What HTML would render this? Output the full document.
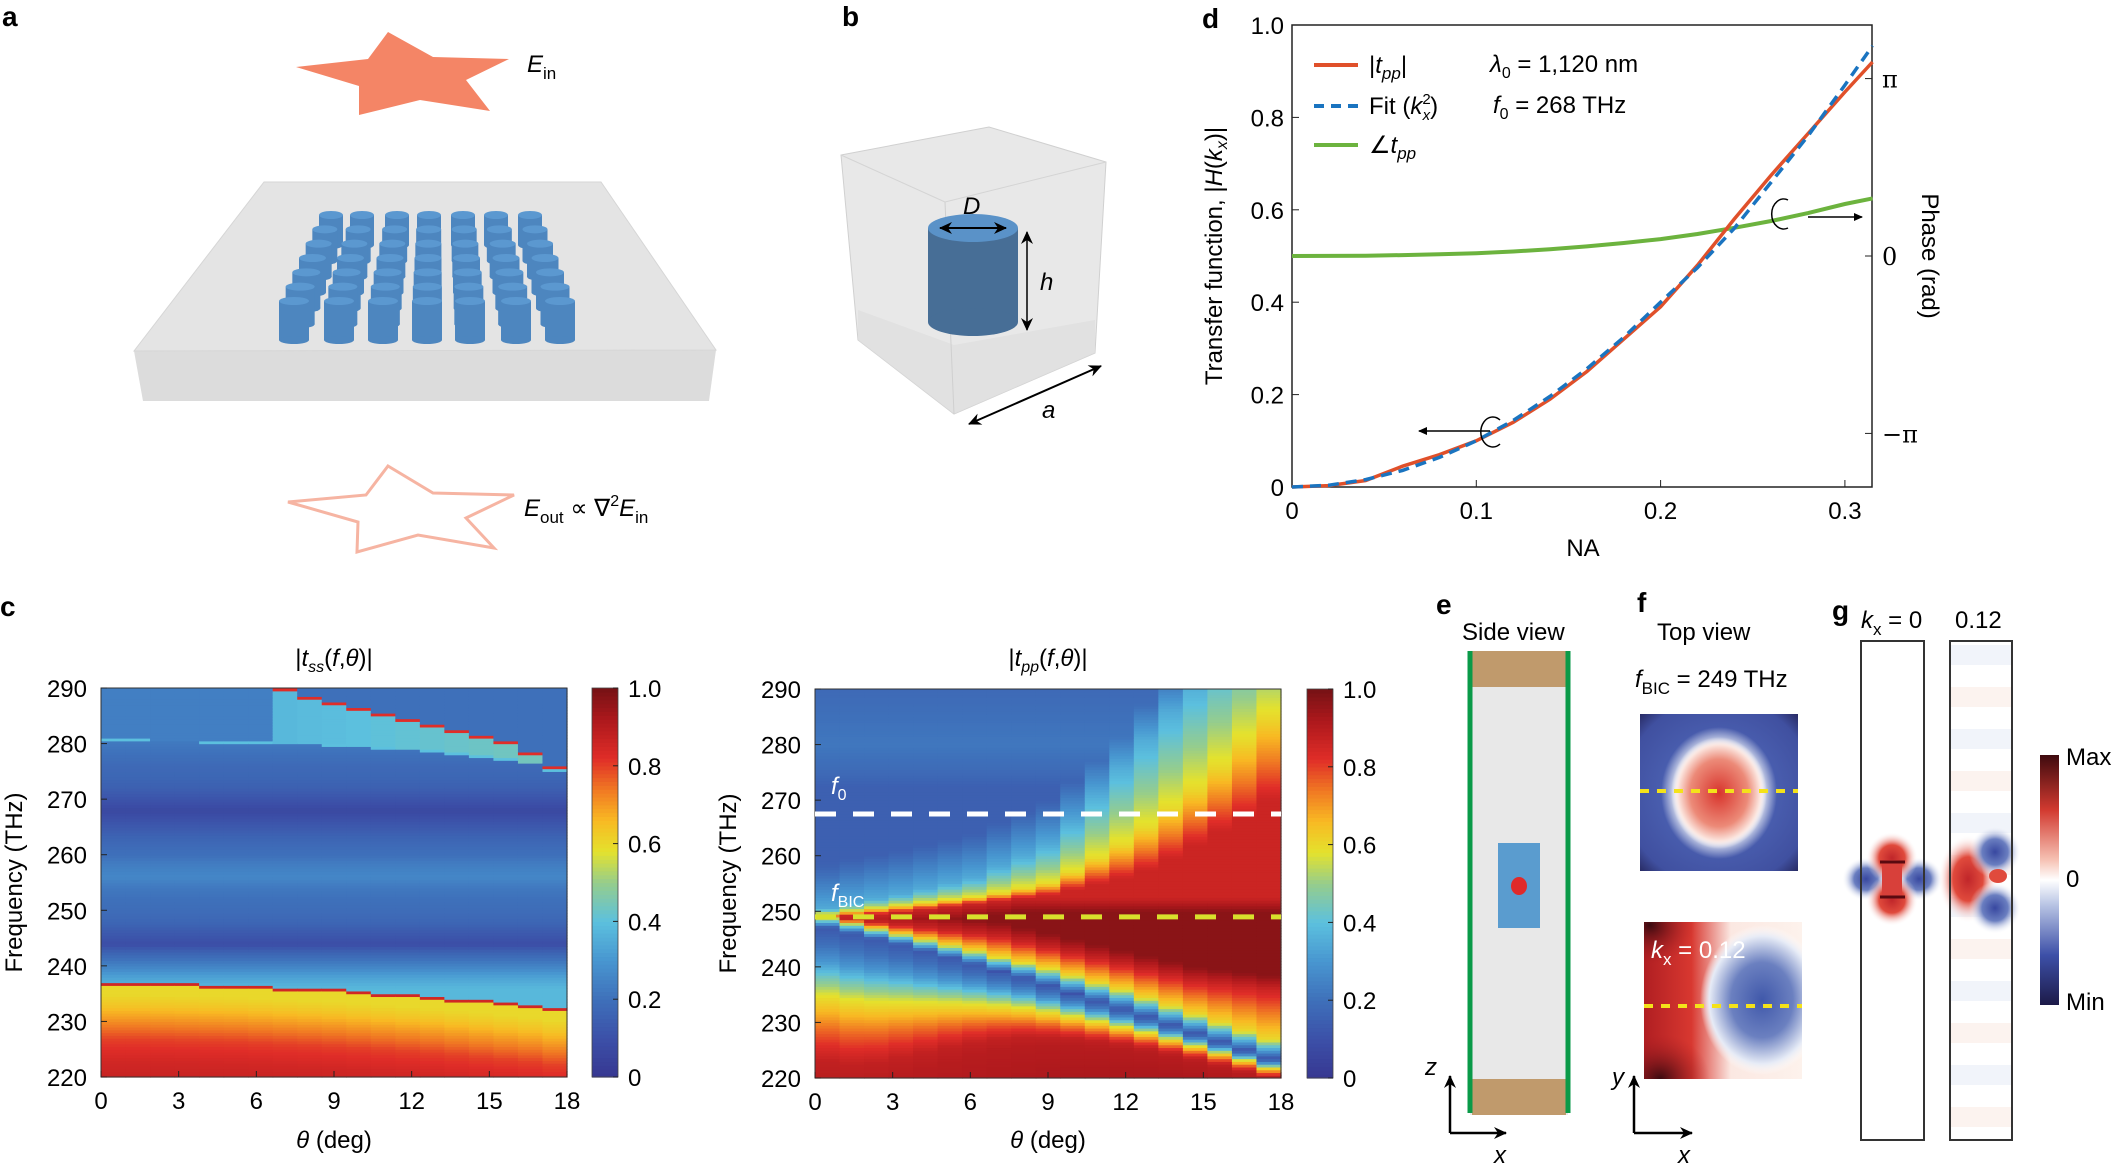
<!DOCTYPE html>
<html><head><meta charset="utf-8">
<style>
html,body{margin:0;padding:0;background:#fff;}
svg{display:block;font-family:"Liberation Sans",sans-serif;}
.lbl{font-weight:bold;font-size:28px;}
</style></head>
<body>
<svg id="fig" width="2119" height="1163" viewBox="0 0 2119 1163" xmlns="http://www.w3.org/2000/svg">
<defs>
 <linearGradient id="gCb" x1="0" y1="0" x2="0" y2="1">
  <stop offset="0" stop-color="#3e0a0e"/><stop offset="0.22" stop-color="#d23a30"/><stop offset="0.42" stop-color="#f6c2b4"/><stop offset="0.5" stop-color="#ffffff"/><stop offset="0.6" stop-color="#b8c4e4"/><stop offset="0.8" stop-color="#3d50a8"/><stop offset="1" stop-color="#1c1a48"/>
 </linearGradient>
 <radialGradient id="gTopRed" cx="0.5" cy="0.5" r="0.5">
  <stop offset="0" stop-color="#d8342c"/><stop offset="0.6" stop-color="#ec8a78"/><stop offset="0.85" stop-color="#fbe3dc"/><stop offset="1" stop-color="#ffffff" stop-opacity="0"/>
 </radialGradient>
 <radialGradient id="gTopBg" cx="0.5" cy="0.5" r="0.75">
  <stop offset="0.45" stop-color="#4a5fb0"/><stop offset="0.8" stop-color="#4050a0"/><stop offset="1" stop-color="#1e1c4c"/>
 </radialGradient>
 <radialGradient id="gWhite" cx="0.5" cy="0.5" r="0.5">
  <stop offset="0.7" stop-color="#ffffff"/><stop offset="1" stop-color="#ffffff" stop-opacity="0"/>
 </radialGradient>
 <linearGradient id="gBotBg" x1="0" y1="0" x2="1" y2="0">
  <stop offset="0" stop-color="#b01e22"/><stop offset="0.3" stop-color="#d83830"/><stop offset="0.55" stop-color="#fbe8e2"/><stop offset="1" stop-color="#fdf2ec"/>
 </linearGradient>
 <radialGradient id="gBotBlue" cx="0.5" cy="0.5" r="0.5">
  <stop offset="0" stop-color="#4058aa"/><stop offset="0.5" stop-color="#6b80c0"/><stop offset="0.85" stop-color="#e6ebf6"/><stop offset="1" stop-color="#ffffff" stop-opacity="0"/>
 </radialGradient>
 <radialGradient id="gDark" cx="0.5" cy="0.5" r="0.5">
  <stop offset="0" stop-color="#3a0a10"/><stop offset="1" stop-color="#b01e22" stop-opacity="0"/>
 </radialGradient>
 <radialGradient id="gRedBlob" cx="0.5" cy="0.5" r="0.5">
  <stop offset="0" stop-color="#c0262a"/><stop offset="0.5" stop-color="#e04a3c"/><stop offset="1" stop-color="#ffffff" stop-opacity="0"/>
 </radialGradient>
 <radialGradient id="gBlueBlob" cx="0.5" cy="0.5" r="0.5">
  <stop offset="0" stop-color="#3848a0"/><stop offset="0.5" stop-color="#6a7ec0"/><stop offset="1" stop-color="#ffffff" stop-opacity="0"/>
 </radialGradient>
 <clipPath id="clipBot"><rect x="1644" y="922" width="158" height="157"/></clipPath>
 <marker id="ah" markerWidth="10" markerHeight="10" refX="8" refY="5" orient="auto" markerUnits="userSpaceOnUse"><path d="M0,1 L9,5 L0,9 Z" fill="#000"/></marker>
 <marker id="ahs" markerWidth="14" markerHeight="14" refX="12" refY="7" orient="auto-start-reverse" markerUnits="userSpaceOnUse"><path d="M0,1 L13,7 L0,13 L4,7 Z" fill="#000"/></marker>
</defs>

<g>
 <text class="lbl" x="2" y="26">a</text>
 <polygon points="388,32 433,57 509,59 466,80 490,111 420,100 359,115 359,86 296,67 368,59" fill="#f48566"/>
 <text x="527" y="72" font-size="24" font-style="italic">E<tspan font-size="17" dy="7" font-style="normal">in</tspan></text>
 <polygon points="134,351 716,350 709,401 143,401" fill="#dcdcdc"/>
 <polygon points="264,182 601,182 716,350 134,351" fill="#e4e4e4" stroke="#d6d6d6"/>
 <g id="pillars"></g>
 <polygon points="388,466 433,493 514,495 466,518 494,548 418,535 357,552 358,522 288,502 366,495" fill="none" stroke="#f6b4a2" stroke-width="3"/>
 <text x="524" y="516" font-size="24"><tspan font-style="italic">E</tspan><tspan font-size="17" dy="7">out</tspan><tspan dy="-7"> ∝ ∇</tspan><tspan font-size="16" dy="-10">2</tspan><tspan dy="10" font-style="italic">E</tspan><tspan font-size="17" dy="7">in</tspan></text>
</g>

<g>
 <text class="lbl" x="842" y="26">b</text>
 <polygon points="841,155 989,127 1106,162 1095,353 954,414 858,340" fill="#e8e8e8" stroke="#d0d0d0"/>
 <polygon points="858,310 954,345 1095,320 1095,353 954,414 858,340" fill="#dedede" opacity="0.8"/>
 <line x1="945" y1="202" x2="954" y2="414" stroke="#cfcfcf"/>
 <line x1="841" y1="155" x2="945" y2="202" stroke="#d4d4d4"/>
 <line x1="945" y1="202" x2="1106" y2="162" stroke="#d4d4d4"/>
 <rect x="928" y="228" width="90" height="94" fill="#476e96"/>
 <ellipse cx="973" cy="322" rx="45" ry="14" fill="#476e96"/>
 <ellipse cx="973" cy="228" rx="45" ry="14" fill="#5a92c8"/>
 <line x1="940" y1="228" x2="1006" y2="228" stroke="#000" stroke-width="2" marker-start="url(#ahs)" marker-end="url(#ahs)"/>
 <text x="963" y="214" font-size="24" font-style="italic">D</text>
 <line x1="1027" y1="232" x2="1027" y2="330" stroke="#000" stroke-width="1.5" marker-start="url(#ahs)" marker-end="url(#ahs)"/>
 <text x="1040" y="290" font-size="24" font-style="italic">h</text>
 <line x1="969" y1="424" x2="1101" y2="366" stroke="#000" stroke-width="2" marker-start="url(#ahs)" marker-end="url(#ahs)"/>
 <text x="1042" y="418" font-size="24" font-style="italic">a</text>
</g>

<g id="panelD">
 <text class="lbl" x="1202" y="28">d</text>
</g>

<g id="panelC">
 <text class="lbl" x="0" y="616">c</text>
</g>

<g>
 <text class="lbl" x="1436" y="614">e</text>
 <text x="1462" y="640" font-size="24">Side view</text>
 <rect x="1470" y="651" width="98" height="464" fill="#e8e8e8"/>
 <rect x="1472" y="651" width="94" height="36" fill="#c09a6c"/>
 <rect x="1472" y="1079" width="94" height="36" fill="#c09a6c"/>
 <line x1="1470" y1="651" x2="1470" y2="1113" stroke="#0a9a48" stroke-width="5"/>
 <line x1="1568" y1="651" x2="1568" y2="1113" stroke="#0a9a48" stroke-width="5"/>
 <rect x="1498" y="843" width="42" height="85" fill="#5a9ccf"/>
 <ellipse cx="1519" cy="886" rx="8" ry="9" fill="#e02a2a"/>
 <line x1="1450" y1="1133" x2="1506" y2="1133" stroke="#000" stroke-width="2.5" marker-end="url(#ahs)"/>
 <line x1="1450" y1="1133" x2="1450" y2="1076" stroke="#000" stroke-width="2.5" marker-end="url(#ahs)"/>
 <text x="1425" y="1075" font-size="24" font-style="italic">z</text>
 <text x="1494" y="1163" font-size="24" font-style="italic">x</text>
</g>

<g>
 <text class="lbl" x="1637" y="612">f</text>
 <text x="1657" y="640" font-size="24">Top view</text>
 <text x="1635" y="687" font-size="24"><tspan font-style="italic">f</tspan><tspan font-size="17" dy="7">BIC</tspan><tspan dy="-7"> = 249 THz</tspan></text>
 <rect x="1640" y="714" width="158" height="157" fill="url(#gTopBg)"/>
 <ellipse cx="1719" cy="793" rx="58" ry="66" fill="url(#gWhite)"/>
 <ellipse cx="1719" cy="793" rx="48" ry="56" fill="url(#gTopRed)"/>
 <line x1="1640" y1="791" x2="1798" y2="791" stroke="#f4e21a" stroke-width="4" stroke-dasharray="9,8"/>
 <g clip-path="url(#clipBot)">
  <rect x="1644" y="922" width="158" height="157" fill="url(#gBotBg)"/>
  <ellipse cx="1650" cy="925" rx="45" ry="40" fill="url(#gDark)"/>
  <ellipse cx="1660" cy="1079" rx="50" ry="45" fill="url(#gDark)"/>
  <ellipse cx="1762" cy="1000" rx="62" ry="75" fill="url(#gBotBlue)"/>
 </g>
 <text x="1651" y="958" font-size="24" fill="#fff"><tspan font-style="italic">k</tspan><tspan font-size="17" dy="7">x</tspan><tspan dy="-7"> = 0.12</tspan></text>
 <line x1="1644" y1="1006" x2="1802" y2="1006" stroke="#f4e21a" stroke-width="4" stroke-dasharray="9,8"/>
 <line x1="1634" y1="1133" x2="1634" y2="1076" stroke="#000" stroke-width="2.5" marker-end="url(#ahs)"/>
 <line x1="1634" y1="1133" x2="1692" y2="1133" stroke="#000" stroke-width="2.5" marker-end="url(#ahs)"/>
 <text x="1612" y="1085" font-size="24" font-style="italic">y</text>
 <text x="1678" y="1163" font-size="24" font-style="italic">x</text>
</g>

<g>
 <text class="lbl" x="1832" y="620">g</text>
 <text x="1861" y="628" font-size="24"><tspan font-style="italic">k</tspan><tspan font-size="17" dy="7">x</tspan><tspan dy="-7"> = 0</tspan></text>
 <text x="1955" y="628" font-size="24">0.12</text>
 <g>
  <rect x="1861" y="641" width="63" height="499" fill="#fff"/>
  <ellipse cx="1866" cy="879" rx="24" ry="22" fill="url(#gBlueBlob)"/>
  <ellipse cx="1919" cy="879" rx="24" ry="22" fill="url(#gBlueBlob)"/>
  <ellipse cx="1892" cy="858" rx="26" ry="26" fill="url(#gRedBlob)"/>
  <ellipse cx="1892" cy="900" rx="26" ry="26" fill="url(#gRedBlob)"/>
  <rect x="1882" y="860" width="20" height="38" fill="#d8403a"/>
  <line x1="1880" y1="862" x2="1905" y2="862" stroke="#5a0a10" stroke-width="3"/>
  <line x1="1880" y1="897" x2="1905" y2="897" stroke="#5a0a10" stroke-width="3"/>
  <rect x="1861" y="641" width="63" height="499" fill="none" stroke="#333" stroke-width="2"/>
 </g>
 <g>
  <rect x="1950" y="641" width="62" height="499" fill="#fff"/>
  <g id="stripes" opacity="0.12"></g>
  <ellipse cx="1968" cy="879" rx="30" ry="44" fill="url(#gRedBlob)"/>
  <ellipse cx="1995" cy="852" rx="26" ry="26" fill="url(#gBlueBlob)"/>
  <ellipse cx="1995" cy="908" rx="26" ry="26" fill="url(#gBlueBlob)"/>
  <ellipse cx="1998" cy="876" rx="9" ry="7" fill="#e04a3c"/>
  <rect x="1950" y="641" width="62" height="499" fill="none" stroke="#333" stroke-width="2"/>
 </g>
 <rect x="2040" y="755" width="19" height="250" fill="url(#gCb)"/>
 <text x="2066" y="765" font-size="24">Max</text>
 <text x="2066" y="887" font-size="24">0</text>
 <text x="2066" y="1010" font-size="24">Min</text>
</g>
</svg>

<script>
// ===== Panel d data =====
const naVals   = [0,0.02,0.04,0.06,0.08,0.1,0.12,0.14,0.16,0.18,0.2,0.22,0.24,0.26,0.28,0.3,0.315];
const tppAbs   = [0,0.003,0.014,0.045,0.07,0.1,0.14,0.19,0.25,0.32,0.39,0.48,0.58,0.675,0.765,0.855,0.92];
const fitVals  = [0,0.004,0.016,0.036,0.064,0.1,0.144,0.196,0.256,0.324,0.4,0.475,0.56,0.66,0.76,0.87,0.955];
const phaseVals= [0,0.002,0.006,0.016,0.03,0.05,0.08,0.12,0.17,0.23,0.3,0.39,0.5,0.62,0.76,0.92,1.02];
const dXTicks  = [0,0.1,0.2,0.3];
const dXTickLabels = ["0","0.1","0.2","0.3"];
const dYTicks  = [0,0.2,0.4,0.6,0.8,1.0];
const dYTickLabels = ["0","0.2","0.4","0.6","0.8","1.0"];
const phaseTicks = [-Math.PI,0,Math.PI];
const phaseTickLabels = ["−π","0","π"];

// ===== Panel c data =====
const thetaCols = [0,1,2,3,4,5,6,7,8,9,10,11,12,13,14,15,16,17,18];
const cXTicks = [0,3,6,9,12,15,18];
const cYTicks = [220,230,240,250,260,270,280,290];
const cbTicks = [0,0.2,0.4,0.6,0.8,1.0];
const cbTickLabels = ["0","0.2","0.4","0.6","0.8","1.0"];
const tssStepEdge = [292,292,292,292,292,292,292,290,288.6,287.6,286.6,285.6,284.6,283.6,282.6,281.5,280.2,278.6,276];
const tssMidEdge  = [280.5,280.5,280.4,280.3,280.2,280.1,280,279.9,279.8,279.6,279.4,279.1,278.8,278.5,278.1,277.7,277.1,276.3,275];
const tssLowEdge  = [236.8,236.8,236.7,236.6,236.5,236.4,236.2,236,235.8,235.6,235.3,235,234.7,234.4,234,233.6,233.2,232.8,232.2];
const tssProfF = [236,238,240,242,244,246,248,250,252,254,256,258,260,262,264,266,268,270,272,274,276,278,280,282,286,290];
const tssProfV = [0.38,0.33,0.25,0.18,0.09,0.13,0.17,0.19,0.2,0.22,0.26,0.24,0.2,0.18,0.15,0.11,0.07,0.11,0.15,0.17,0.18,0.2,0.22,0.24,0.25,0.22];
const tssLowD = [0,2,4,7,10,14,17];
const tssLowV = [0.6,0.6,0.64,0.72,0.8,0.85,0.87];
// tpp contours per theta column
const tppUpRed    = [249,249.3,249.6,250,250.5,251,251.5,252,252.5,253,254,255,256,257.5,259.5,262,264.5,267,270];
const tppUpYellow = [249.5,250,250.5,251,251.5,252,252.5,253.3,254.1,255,257,259.5,262,265,268.5,272,276,280.5,285];
const tppUpCyan   = [250.5,251.5,252.3,253,254,255,256,258,260,262,266,271,276,281,286,291,296,300,304];
const tppLowRed   = [249,248.5,248,247.5,247,246.5,246,245.5,244.5,243.5,242.5,241.5,240.5,239.5,238.5,237.5,237,236.5,236];
const tppLowYellow= [249,248,247,246,245,244,243,241.8,240.8,239.8,238.5,237.2,236,234.5,233,231.5,230,228.5,227];
const tppLowBlue  = [247,246,245,244,242.8,241.6,240.4,239.2,238,236.6,235.2,233.8,232.4,231,229.5,228,226.5,225,223.5];
const tppBaseF = [200,216,220,223,226,229,232,235,238,241,244,247,250,254,258,262,266,270,275,280,285,290];
const tppBaseV = [0.92,0.9,0.88,0.82,0.75,0.66,0.58,0.45,0.3,0.2,0.13,0.12,0.12,0.14,0.16,0.13,0.1,0.12,0.18,0.22,0.2,0.18];
const f0Line = 267.5, fBicLine = 249;

const NS = "http://www.w3.org/2000/svg";
function mk(parent, tag, attrs, text){
  const e = document.createElementNS(NS, tag);
  for (const k in attrs) e.setAttribute(k, attrs[k]);
  if (text !== undefined) e.textContent = text;
  parent.appendChild(e);
  return e;
}
function interp(xs, ys, x){
  if (x <= xs[0]) return ys[0];
  for (let i=1;i<xs.length;i++){ if (x <= xs[i]) { const t=(x-xs[i-1])/(xs[i]-xs[i-1]); return ys[i-1]+t*(ys[i]-ys[i-1]); } }
  return ys[ys.length-1];
}
function lerp(a,b,t){ t=Math.max(0,Math.min(1,t)); return a+(b-a)*t; }
const cmS = [0,0.1,0.2,0.3,0.4,0.5,0.58,0.66,0.74,0.82,0.92,1];
const cmC = [[55,55,145],[60,80,168],[62,112,186],[72,150,208],[92,192,222],[150,205,140],[228,226,45],[248,185,35],[240,120,35],[224,45,40],[172,24,28],[118,18,20]];
function cmap(v){
  v=Math.max(0,Math.min(1,v));
  let i=1; while(i<cmS.length-1 && v>cmS[i]) i++;
  const t=(v-cmS[i-1])/(cmS[i]-cmS[i-1]);
  const a=cmC[i-1], b=cmC[i];
  return "rgb("+Math.round(a[0]+t*(b[0]-a[0]))+","+Math.round(a[1]+t*(b[1]-a[1]))+","+Math.round(a[2]+t*(b[2]-a[2]))+")";
}

(function(){
  const g=document.getElementById('pillars');
  const frontX=[294,339,383,427,470,516,560], backX=[331,362,397,429,463,496,530];
  const rows=7;
  for(let r=0;r<rows;r++){
    const t=r/(rows-1);
    const top=215+t*86, w=24+t*6, h=30+t*9;
    for(let c=0;c<7;c++){
      const cx=backX[c]+t*(frontX[c]-backX[c]);
      const p=mk(g,'rect',{x:cx-w/2,y:top,width:w,height:h,fill:'#4d86bf'});
      
      
      mk(g,'ellipse',{cx:cx,cy:top+h,rx:w/2,ry:4,fill:'#4d86bf'});
      mk(g,'ellipse',{cx:cx,cy:top,rx:w/2,ry:4,fill:'#5b98d0'});
    }
  }
  const st=document.getElementById('stripes');
  for(let k=0;k<12;k++){
    mk(st,'rect',{x:1950,y:645+k*42,width:62,height:20,fill:(k%2?'#e8a080':'#90a8d8')});
  }
})();

(function(){
  const g=document.getElementById('panelD');
  const X0=1292, X1=1872, Y0=487, Y1=25;
  const xS=v=>X0+v/0.1*184.3;
  const yS=v=>Y0-v*(Y0-Y1);
  const pS=p=>yS(0.5+p/Math.PI*0.384);
  mk(g,'rect',{x:X0,y:Y1,width:X1-X0,height:Y0-Y1,fill:'none',stroke:'#222','stroke-width':1.5});
  dXTicks.forEach((t,i)=>{
    mk(g,'line',{x1:xS(t),y1:Y0,x2:xS(t),y2:Y0-7,stroke:'#222'});
    const l=mk(g,'text',{x:xS(t),y:Y0+32,'text-anchor':'middle','font-size':24},dXTickLabels[i]);
    
    
  });
  dYTicks.forEach((t,i)=>{
    mk(g,'line',{x1:X0,y1:yS(t),x2:X0+7,y2:yS(t),stroke:'#222'});
    const l=mk(g,'text',{x:X0-8,y:yS(t)+9,'text-anchor':'end','font-size':24},dYTickLabels[i]);
    
    
  });
  phaseTicks.forEach((t,i)=>{
    mk(g,'line',{x1:X1,y1:pS(t),x2:X1-7,y2:pS(t),stroke:'#222'});
    const l=mk(g,'text',{x:X1+10,y:pS(t)+9,'font-size':24,'font-family':'"DejaVu Serif",serif'},phaseTickLabels[i]);
    
    
  });
  const t1=mk(g,'text',{x:1583,y:556,'text-anchor':'middle','font-size':24},'NA');
   
  const t2=mk(g,'text',{transform:'translate(1222,256) rotate(-90)','text-anchor':'middle','font-size':24});
  t2.innerHTML='Transfer function, |<tspan font-style="italic">H</tspan>(<tspan font-style="italic">k</tspan><tspan font-size="16" dy="5" font-style="italic">x</tspan><tspan dy="-5">)|</tspan>';
   
  const t3=mk(g,'text',{transform:'translate(1922,256) rotate(90)','text-anchor':'middle','font-size':24},'Phase (rad)');
   
  function line(xs,ys,fn,attrs,name){
    let d='';
    xs.forEach((x,i)=>{ d+=(i?'L':'M')+xS(x).toFixed(1)+','+fn(ys[i]).toFixed(1); });
    const p=mk(g,'path',Object.assign({d:d,fill:'none'},attrs));
    
    
  }
  line(naVals,phaseVals,pS,{stroke:'#6cb33e','stroke-width':4},'phase-line');
  line(naVals,tppAbs,yS,{stroke:'#e0502a','stroke-width':3.5},'tpp-abs-line');
  line(naVals,fitVals,yS,{stroke:'#1a74c0','stroke-width':3.5,'stroke-dasharray':'11,7'},'fit-line');
  const lg=mk(g,'g',{});
  
  
  mk(lg,'line',{x1:1314,y1:65,x2:1358,y2:65,stroke:'#e0502a','stroke-width':4});
  mk(lg,'line',{x1:1314,y1:106,x2:1358,y2:106,stroke:'#1a74c0','stroke-width':4,'stroke-dasharray':'10,7'});
  mk(lg,'line',{x1:1314,y1:145,x2:1358,y2:145,stroke:'#6cb33e','stroke-width':4});
  mk(lg,'text',{x:1369,y:73,'font-size':24}).innerHTML='|<tspan font-style="italic">t</tspan><tspan font-size="17" dy="6" font-style="italic">pp</tspan><tspan dy="-6">|</tspan>';
  mk(lg,'text',{x:1369,y:114,'font-size':24}).innerHTML='Fit (<tspan font-style="italic">k</tspan><tspan font-size="15" dy="-10">2</tspan><tspan font-size="15" dx="-8" dy="16" font-style="italic">x</tspan><tspan dy="-6">)</tspan>';
  mk(lg,'text',{x:1369,y:153,'font-size':24}).innerHTML='∠<tspan font-style="italic">t</tspan><tspan font-size="17" dy="6" font-style="italic">pp</tspan>';
  mk(lg,'text',{x:1490,y:72,'font-size':24}).innerHTML='<tspan font-style="italic">λ</tspan><tspan font-size="16" dy="6">0</tspan><tspan dy="-6"> = 1,120 nm</tspan>';
  mk(lg,'text',{x:1493,y:113,'font-size':24}).innerHTML='<tspan font-style="italic">f</tspan><tspan font-size="16" dy="6">0</tspan><tspan dy="-6"> = 268 THz</tspan>';
  mk(g,'path',{d:'M1500,420 A12,15 0 1,0 1500,444',fill:'none',stroke:'#000','stroke-width':1.5});
  mk(g,'line',{x1:1490,y1:431,x2:1419,y2:431,stroke:'#000','stroke-width':1.5,'marker-end':'url(#ah)'});
  mk(g,'path',{d:'M1788,200 A12,15 0 1,0 1788,228',fill:'none',stroke:'#000','stroke-width':1.5});
  mk(g,'line',{x1:1808,y1:217,x2:1862,y2:217,stroke:'#000','stroke-width':1.5,'marker-end':'url(#ah)'});
})();

function tssValue(i,f){
  const L=tssLowEdge[i], M=tssMidEdge[i], S=tssStepEdge[i];
  if (f < L-0.3) return interp(tssLowD,tssLowV,L-f);
  if (f <= L+0.2) return 0.85;
  if (f < M) return interp(tssProfF,tssProfV,f);
  if (f < M+0.3) return 0.4;
  if (S > 291) return 0.24;
  if (f < S-0.4) return 0.34+0.006*i;
  if (f < S+0.1) return 0.82;
  return 0.2;
}
function tppValue(i,f){
  const Ur=tppUpRed[i], Uy=tppUpYellow[i], Uc=tppUpCyan[i];
  const Lr=tppLowRed[i], Ly=tppLowYellow[i], Lb=tppLowBlue[i];
  if (f>=Lr && f<=Ur){
    const m=Math.min(f-Lr, Ur-f, 252.5-f);
    return 0.86+0.11*Math.max(0,Math.min(1,m/2.5));
  }
  if (f>Ur){
    let v;
    if (f<Uy) v=lerp(0.86,0.6,(f-Ur)/Math.max(0.3,Uy-Ur));
    else if (f<Uc) v=lerp(0.6,0.35,(f-Uy)/Math.max(0.3,Uc-Uy));
    else v=lerp(0.35,0.15,(f-Uc)/8);
    return Math.max(v, interp(tppBaseF,tppBaseV,f));
  }
  if (f>=Ly) return lerp(0.86,0.6,(Lr-f)/Math.max(0.3,Lr-Ly));
  if (f>=Lb) return lerp(0.6,0.1,(Ly-f)/Math.max(0.3,Ly-Lb));
  const k=1+0.02*i*i;
  const fb=244-(Lb-f)*k;
  return Math.max(0.1, interp(tppBaseF,tppBaseV,fb));
}
function heatmap(g, X0,X1,Y0,Y1, fn, title, cbx, showLines){
  const fS=f=>Y0-(f-220)/70*(Y0-Y1);
  const colW=(X1-X0)/thetaCols.length;
  const hg=mk(g,'g',{});
  
  
  thetaCols.forEach((th,i)=>{
    for(let f=220; f<290; f+=0.5){
      const r=mk(hg,'rect',{x:(X0+i*colW).toFixed(2),y:fS(f+0.5).toFixed(2),width:(colW+0.6).toFixed(2),height:((Y0-Y1)/140+0.6).toFixed(2),fill:cmap(fn(i,f+0.25))});
      
      
    }
  });
  mk(g,'rect',{x:X0,y:Y1,width:X1-X0,height:Y0-Y1,fill:'none',stroke:'#333','stroke-width':1});
  const xS=t=>X0+t/18*(X1-X0);
  cXTicks.forEach(t=>{
    mk(g,'line',{x1:xS(t),y1:Y0,x2:xS(t),y2:Y0-6,stroke:'#222'});
    const l=mk(g,'text',{x:xS(t),y:Y0+32,'text-anchor':'middle','font-size':24},String(t));
    
    
  });
  cYTicks.forEach(t=>{
    mk(g,'line',{x1:X0,y1:fS(t),x2:X0+6,y2:fS(t),stroke:'#222'});
    const l=mk(g,'text',{x:X0-14,y:fS(t)+9,'text-anchor':'end','font-size':24},String(t));
    
    
  });
  const cx=(X0+X1)/2;
  const xt=mk(g,'text',{x:cx,y:1148,'text-anchor':'middle','font-size':24});
  xt.innerHTML='<tspan font-style="italic">θ</tspan> (deg)';
   
  const tt=mk(g,'text',{x:cx,y:666,'text-anchor':'middle','font-size':24});
  tt.innerHTML=title;
   
  const yt=mk(g,'text',{transform:'translate('+(X0-79)+','+((Y0+Y1)/2)+') rotate(-90)','text-anchor':'middle','font-size':24},'Frequency (THz)');
   
  const cb=mk(g,'g',{});
  
  
  const n=100;
  for(let k=0;k<n;k++){
    mk(cb,'rect',{x:cbx,y:(Y0-(k+1)/n*(Y0-Y1)).toFixed(2),width:26,height:((Y0-Y1)/n+0.6).toFixed(2),fill:cmap((k+0.5)/n)});
  }
  mk(cb,'rect',{x:cbx,y:Y1,width:26,height:Y0-Y1,fill:'none',stroke:'#444','stroke-width':0.8});
  cbTicks.forEach((t,i)=>{
    const y=Y0-t*(Y0-Y1);
    mk(cb,'line',{x1:cbx+26,y1:y,x2:cbx+21,y2:y,stroke:'#222'});
    mk(cb,'text',{x:cbx+36,y:y+9,'font-size':24},cbTickLabels[i]);
  });
  if (showLines){
    const w=mk(g,'line',{x1:X0,y1:fS(f0Line),x2:X1,y2:fS(f0Line),stroke:'#fff','stroke-width':5,'stroke-dasharray':'21,17'});
     
    const yl=mk(g,'line',{x1:X0,y1:fS(fBicLine),x2:X1,y2:fS(fBicLine),stroke:'#d8e02c','stroke-width':5,'stroke-dasharray':'21,17'});
     
    mk(g,'text',{x:X0+16,y:fS(f0Line)-20,'font-size':24,fill:'#fff'}).innerHTML='<tspan font-style="italic">f</tspan><tspan font-size="16" dy="6">0</tspan>';
    mk(g,'text',{x:X0+16,y:fS(fBicLine)-16,'font-size':24,fill:'#fff'}).innerHTML='<tspan font-style="italic">f</tspan><tspan font-size="16" dy="6">BIC</tspan>';
  }
}
(function(){
  const g=document.getElementById('panelC');
  const g1=mk(g,'g',{});  
  heatmap(g1,101,567,1077,688,tssValue,'|<tspan font-style="italic">t</tspan><tspan font-size="16" dy="6" font-style="italic">ss</tspan><tspan dy="-6">(</tspan><tspan font-style="italic">f</tspan>,<tspan font-style="italic">θ</tspan>)|',592,false);
  const g2=mk(g,'g',{});  
  heatmap(g2,815,1281,1078,689,tppValue,'|<tspan font-style="italic">t</tspan><tspan font-size="16" dy="6" font-style="italic">pp</tspan><tspan dy="-6">(</tspan><tspan font-style="italic">f</tspan>,<tspan font-style="italic">θ</tspan>)|',1307,true);
})();
</script>
</body></html>
